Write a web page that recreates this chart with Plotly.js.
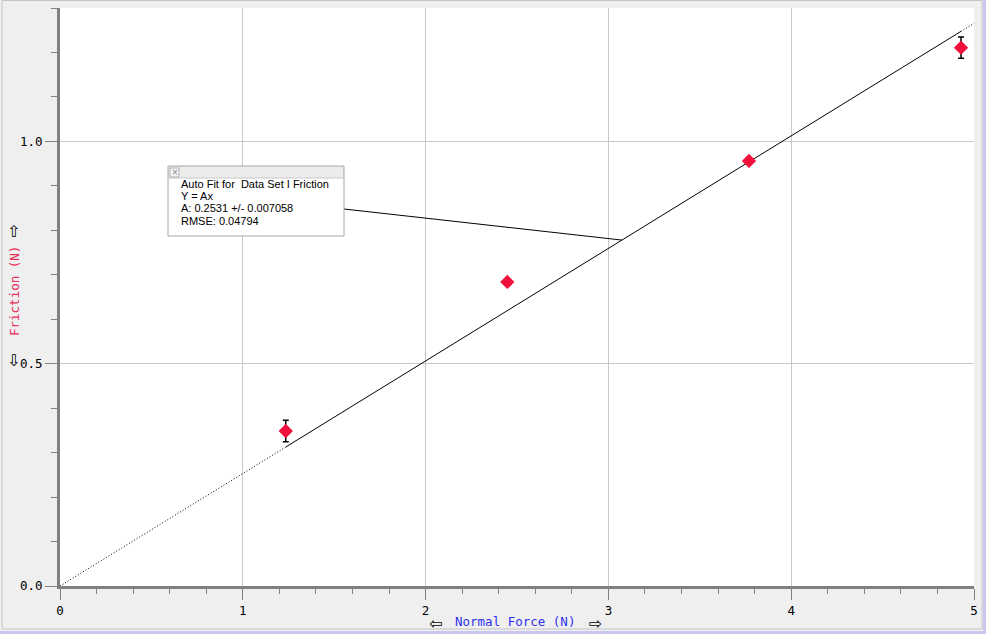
<!DOCTYPE html>
<html><head><meta charset="utf-8">
<script src="https://cdn.plot.ly/plotly-3.0.1.min.js"></script>
<style>html,body{margin:0;padding:0;background:#efefef;overflow:hidden}#chart{width:986px;height:634px;}</style>
</head><body><div id="chart"></div>
<script>
// ---- data ----
const normalForce = [1.235, 2.447, 3.769, 4.929];
const friction    = [0.3486, 0.6838, 0.956, 1.2108];
const frictionErr = [0.024, 0, 0, 0.024];
const fitA = 0.2531;
const fitAErr = 0.007058;
const fitRMSE = 0.04794;
const xTickVals = [0, 1, 2, 3, 4, 5];
const yTickVals = [0, 0.5, 1.0];
const xRange = [0, 5];
const yRange = [0, 1.3];
const xTitle = "Normal Force (N)";
const yTitle = "Friction (N)";
const fitLines = ["Auto Fit for\u00a0\u00a0Data Set I Friction", "Y = Ax",
  "A: " + fitA + " +/- " + fitAErr, "RMSE: " + fitRMSE];
const leaderX = 3.074;

// ---- layout helpers (pixel -> paper) ----
const W = 986, H = 634, M = {l: 60, r: 12, t: 8, b: 48};
const pw = W - M.l - M.r, ph = H - M.t - M.b;
const px = x => (x - M.l) / pw;
const py = y => (H - M.b - y) / ph;

const mono = "DejaVu Sans Mono, monospace";
const sans = "Liberation Sans, Arial, sans-serif";

const xmin = Math.min(...normalForce), xmax = Math.max(...normalForce);
const fit = x => fitA * x;
const seg = (a, b, dash) => ({
  x: [a, b], y: [fit(a), fit(b)], mode: "lines", type: "scatter",
  line: {color: "#000", width: 1, dash: dash}, hoverinfo: "skip", showlegend: false, cliponaxis: true
});

const traces = [
  seg(xRange[0], xmin, "1px,2px"),
  seg(xmin, xmax, "solid"),
  seg(xmax, xRange[1], "1px,2px"),
  {
    x: normalForce, y: friction, type: "scatter", mode: "markers", showlegend: false,
    marker: {symbol: "diamond", size: 11, color: "#f0103c"},
    error_y: {type: "data", array: frictionErr, visible: true, color: "#000", thickness: 1.5, width: 3}
  }
];

// annotation box geometry (pixels)
const box = {l: 168, r: 344, t: 166, b: 236, hb: 178};
const shapes = [
  // window frame
  {type: "rect", xref: "paper", yref: "paper", x0: px(2), x1: px(982), y0: py(629), y1: py(0.5),
   line: {color: "#c4c4c4", width: 1}, fillcolor: "rgba(0,0,0,0)", layer: "below"},
  {type: "line", xref: "paper", yref: "paper", x0: px(0), x1: px(986), y0: py(632.5), y1: py(632.5),
   line: {color: "#c8c8f0", width: 3}},
  {type: "line", xref: "paper", yref: "paper", x0: px(984.5), x1: px(984.5), y0: py(0), y1: py(634),
   line: {color: "#c8c8f0", width: 3}},
  // leader line from box to fit line
  {type: "line", xref: "paper", yref: "paper", x0: px(box.r), y0: py(209),
   x1: leaderX / xRange[1], y1: fit(leaderX) / yRange[1], line: {color: "#000", width: 1}},
  // fit info box
  {type: "rect", xref: "paper", yref: "paper", x0: px(box.l), x1: px(box.r), y0: py(box.b), y1: py(box.t),
   fillcolor: "#ffffff", line: {color: "#a8a8a8", width: 1}},
  {type: "rect", xref: "paper", yref: "paper", x0: px(box.l + 0.5), x1: px(box.r - 0.5), y0: py(box.hb), y1: py(box.t + 0.5),
   fillcolor: "#ececec", line: {color: "#c8c8c8", width: 1}},
  {type: "rect", xref: "paper", yref: "paper", x0: px(170), x1: px(179), y0: py(177), y1: py(168),
   fillcolor: "#f4f4f4", line: {color: "#b0b0b0", width: 1}}
];

const arrowFont = {family: "DejaVu Sans", size: 16, color: "#000"};
const annotations = [
  {xref: "paper", yref: "paper", x: px(174.5), y: py(172.5), text: "×", showarrow: false,
   font: {family: sans, size: 10, color: "#888"}, xanchor: "center", yanchor: "middle"},
  ...fitLines.map((t, i) => ({
    xref: "paper", yref: "paper", x: px(179), y: py(184 + i * 12.2), text: t, showarrow: false,
    xanchor: "left", yanchor: "middle", font: {family: sans, size: 11, color: "#000"}
  })),
  // axis titles
  {xref: "paper", yref: "paper", x: px(515), y: py(621), text: xTitle, showarrow: false,
   font: {family: mono, size: 12.5, color: "#3030f0"}, xanchor: "center", yanchor: "middle"},
  {xref: "paper", yref: "paper", x: px(435), y: py(623), text: "⇦", showarrow: false,
   font: arrowFont, xanchor: "center", yanchor: "middle"},
  {xref: "paper", yref: "paper", x: px(595), y: py(623), text: "⇨", showarrow: false,
   font: arrowFont, xanchor: "center", yanchor: "middle"},
  {xref: "paper", yref: "paper", x: px(14), y: py(291), text: yTitle, showarrow: false, textangle: -90,
   font: {family: mono, size: 12.5, color: "#e8305a"}, xanchor: "center", yanchor: "middle"},
  {xref: "paper", yref: "paper", x: px(13), y: py(231), text: "⇧", showarrow: false,
   font: arrowFont, xanchor: "center", yanchor: "middle"},
  {xref: "paper", yref: "paper", x: px(13), y: py(361), text: "⇩", showarrow: false,
   font: arrowFont, xanchor: "center", yanchor: "middle"}
];

const axisCommon = {
  showline: true, linecolor: "#808080", linewidth: 3, zeroline: false,
  showgrid: true, gridcolor: "#c8c8c8", gridwidth: 1,
  ticks: "outside", tickcolor: "#808080", tickwidth: 1,
  tickfont: {family: mono, size: 12.5, color: "#000"}, fixedrange: true
};

const layout = {
  width: W, height: H, margin: M,
  paper_bgcolor: "#efefef", plot_bgcolor: "#ffffff",
  showlegend: false,
  xaxis: Object.assign({}, axisCommon, {
    range: xRange, tickmode: "array", tickvals: xTickVals, ticktext: xTickVals.map(String), ticklen: 11,
    minor: {dtick: 0.2, tick0: 0, ticks: "outside", ticklen: 5, tickcolor: "#808080", tickwidth: 1, showgrid: false}
  }),
  yaxis: Object.assign({}, axisCommon, {
    range: yRange, tickmode: "array", tickvals: yTickVals, ticktext: yTickVals.map(v => v.toFixed(1)), ticklen: 12,
    minor: {dtick: 0.1, tick0: 0, ticks: "outside", ticklen: 6, tickcolor: "#808080", tickwidth: 1, showgrid: false}
  }),
  shapes: shapes,
  annotations: annotations
};

Plotly.newPlot("chart", traces, layout, {displayModeBar: false, staticPlot: true});
</script>
</body></html>
